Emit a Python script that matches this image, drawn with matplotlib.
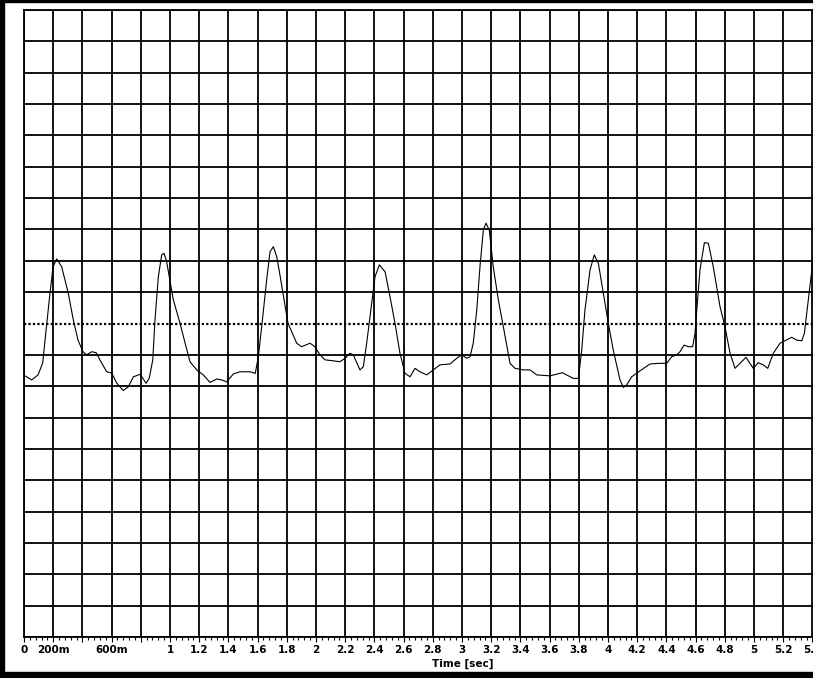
import matplotlib
matplotlib.use("Agg")
import matplotlib.pyplot as plt
from matplotlib.patches import Rectangle
import numpy as np

# waveform samples (time in sec, amplitude in grid divisions)
time_s = [
    0.007, 0.053, 0.096, 0.128, 0.144, 0.178, 0.199, 0.224, 0.258, 0.303,
    0.338, 0.370, 0.404, 0.429, 0.464, 0.493, 0.532, 0.566, 0.601, 0.635,
    0.680, 0.714, 0.749, 0.795, 0.813, 0.836, 0.858, 0.882, 0.897, 0.920,
    0.943, 0.959, 0.977, 1.023, 1.068, 1.103, 1.137, 1.183, 1.228, 1.274,
    1.320, 1.354, 1.388, 1.434, 1.479, 1.548, 1.584, 1.605, 1.628, 1.662,
    1.685, 1.708, 1.731, 1.753, 1.776, 1.808, 1.868, 1.901, 1.959, 1.993,
    2.027, 2.062, 2.118, 2.164, 2.199, 2.233, 2.255, 2.301, 2.324, 2.347,
    2.370, 2.404, 2.434, 2.473, 2.507, 2.541, 2.575, 2.610, 2.644, 2.678,
    2.712, 2.758, 2.803, 2.849, 2.918, 2.964, 2.998, 3.032, 3.055, 3.077,
    3.101, 3.123, 3.146, 3.164, 3.187, 3.214, 3.249, 3.283, 3.329, 3.363,
    3.420, 3.466, 3.512, 3.603, 3.687, 3.762, 3.797, 3.820, 3.842, 3.877,
    3.906, 3.934, 3.968, 4.002, 4.036, 4.082, 4.105, 4.128, 4.162, 4.219,
    4.288, 4.356, 4.402, 4.436, 4.471, 4.493, 4.521, 4.550, 4.580, 4.596,
    4.608, 4.630, 4.660, 4.687, 4.721, 4.767, 4.801, 4.836, 4.870, 4.904,
    4.945, 4.995, 5.029, 5.064, 5.094, 5.132, 5.178, 5.258, 5.292, 5.327,
    5.345, 5.361, 5.388, 5.402,
]
amplitude = [
    -1.67, -1.80, -1.64, -1.26, -0.53, 0.97, 1.81, 2.06, 1.81, 0.97,
    0.11, -0.53, -0.90, -1.00, -0.90, -0.93, -1.26, -1.54, -1.58, -1.90,
    -2.14, -2.02, -1.70, -1.62, -1.74, -1.91, -1.74, -1.16, 0.11, 1.49,
    2.19, 2.24, 1.97, 0.75, 0.02, -0.62, -1.22, -1.48, -1.64, -1.88,
    -1.77, -1.80, -1.86, -1.61, -1.54, -1.54, -1.59, -1.06, -0.10, 1.39,
    2.29, 2.45, 2.13, 1.55, 0.91, 0.01, -0.63, -0.74, -0.63, -0.74,
    -1.00, -1.16, -1.19, -1.22, -1.11, -0.95, -1.00, -1.48, -1.38, -0.63,
    0.22, 1.49, 1.87, 1.65, 0.85, 0.01, -0.95, -1.59, -1.70, -1.43,
    -1.54, -1.64, -1.48, -1.32, -1.29, -1.11, -1.00, -1.11, -1.06, -0.63,
    0.43, 1.81, 2.98, 3.20, 2.98, 1.81, 0.75, -0.10, -1.27, -1.43,
    -1.48, -1.48, -1.64, -1.67, -1.57, -1.75, -1.75, -0.85, 0.43, 1.71,
    2.19, 1.92, 0.96, 0.01, -0.85, -1.80, -2.04, -1.96, -1.70, -1.51,
    -1.29, -1.27, -1.27, -1.06, -1.00, -0.90, -0.69, -0.74, -0.74, -0.31,
    0.43, 1.71, 2.58, 2.56, 1.81, 0.54, -0.10, -0.95, -1.43, -1.27,
    -1.08, -1.43, -1.25, -1.32, -1.43, -0.95, -0.63, -0.44, -0.53, -0.55,
    -0.31, 0.33, 1.39, 1.92,
]

x_ticks = [0.0, 0.2, 0.4, 0.6, 0.8, 1.0, 1.2, 1.4, 1.6, 1.8, 2.0, 2.2, 2.4,
           2.6, 2.8, 3.0, 3.2, 3.4, 3.6, 3.8, 4.0, 4.2, 4.4, 4.6, 4.8, 5.0,
           5.2, 5.4]
x_tick_labels = ["0", "200m", "", "600m", "", "1", "1.2", "1.4", "1.6", "1.8",
                 "2", "2.2", "2.4", "2.6", "2.8", "3", "3.2", "3.4", "3.6",
                 "3.8", "4", "4.2", "4.4", "4.6", "4.8", "5", "5.2", "5.4"]
y_divisions = list(range(-10, 11))

W, H = 813, 678
fig = plt.figure(figsize=(W / 100, H / 100), dpi=100)
fig.patch.set_facecolor("white")

ax = fig.add_axes([24 / W, (H - 637) / H, (813 - 24) / W, (637 - 10) / H])
ax.set_xlim(0, 5.404)
ax.set_ylim(-10, 10)

# grid
for xv in x_ticks:
    ax.axvline(xv, color="black", lw=1.3, zorder=1)
for yv in y_divisions:
    if yv == 0:
        ax.axhline(yv, color="black", lw=1.6, ls=(0, (1, 1)), zorder=1)
    else:
        ax.axhline(yv, color="black", lw=1.3, zorder=1)

ax.plot(time_s, amplitude, color="black", lw=0.8, zorder=3)

ax.set_xticks(x_ticks)
ax.set_xticklabels(x_tick_labels, fontsize=7.5, fontweight="bold")
ax.set_xticks(np.arange(0, 5.41, 0.04), minor=True)
ax.tick_params(axis="x", which="major", direction="out", length=3.5, width=0.8, pad=2.5)
ax.tick_params(axis="x", which="minor", direction="out", length=2, width=0.8)
ax.set_yticks([])
ax.set_xlabel("Time [sec]", fontsize=7.5, fontweight="bold", labelpad=0)
ax.xaxis.set_label_coords((463 - 24) / (813 - 24), -0.035)

for side in ["top", "left", "bottom"]:
    ax.spines[side].set_linewidth(1.3)
ax.spines["right"].set_visible(False)

# outer frame of the instrument panel
fig.add_artist(Rectangle((0, 0), 4 / W, 1, transform=fig.transFigure, color="black"))
fig.add_artist(Rectangle((0, 0), 1, 6 / H, transform=fig.transFigure, color="black"))
fig.add_artist(Rectangle((0, 1 - 2 / H), 1, 2 / H, transform=fig.transFigure, color="black"))

fig.savefig("out.png", dpi=100)
